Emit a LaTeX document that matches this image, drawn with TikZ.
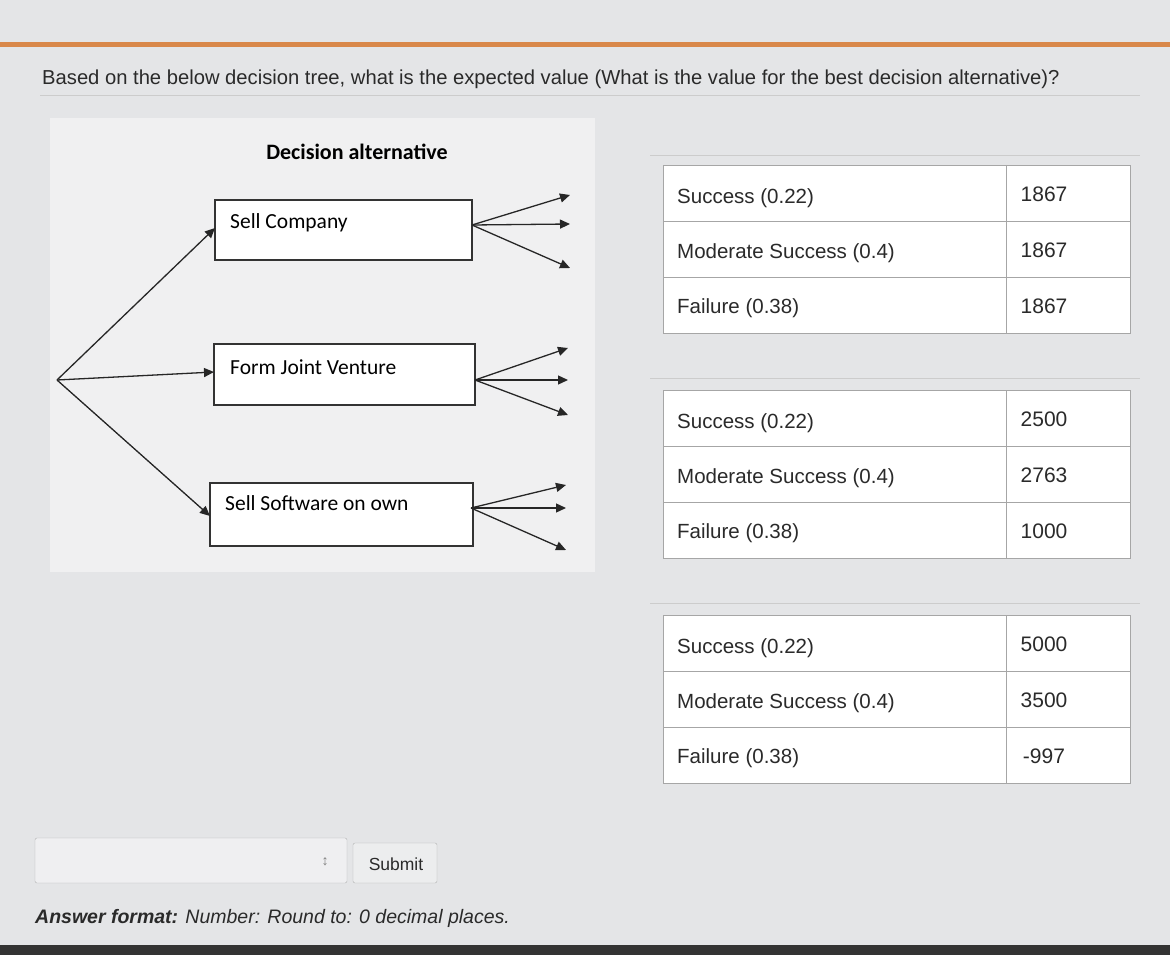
\documentclass[tikz,border=0pt]{standalone}
\usepackage{fontspec}
\setmainfont{Liberation Sans}
\newfontfamily\calfnt{Carlito}
\usetikzlibrary{arrows.meta}
\definecolor{bg}{HTML}{E4E5E7}
\definecolor{panel}{HTML}{F0F0F1}
\definecolor{orng}{HTML}{D9884A}
\definecolor{txt}{HTML}{2A2A2A}
\tikzset{
 tbl/.style={draw=gray!70, fill=white, line width=0.8pt},
 cell/.style={anchor=west, font=\fontsize{20.5}{20}\selectfont, text=txt},
 val/.style={anchor=center, font=\fontsize{21}{21}\selectfont, text=txt},
 dbox/.style={draw=black!80, line width=1.1pt, fill=white},
 dlab/.style={anchor=west, font=\calfnt\fontsize{21.5}{21}\selectfont, text=black},
 arr/.style={-{Triangle[length=10pt,width=9pt]}, line width=1.3pt, black!85},
}
\begin{document}
\begin{tikzpicture}[x=1pt,y=-1pt]
\fill[bg] (0,0) rectangle (1170,955);
\useasboundingbox (0,0) rectangle (1170,955);
\fill[orng] (0,42) rectangle (1170,47);
\draw[gray!40] (40,95) -- (1140,95);
\node[anchor=west, inner sep=0pt, font=\fontsize{20.2}{20}\selectfont, text=txt] (q) at (42,79) {Based on the below decision tree, what is the expected value (What is the value for the best decision alternative)?};
% tree panel
\fill[panel] (50,118) rectangle (595,572);
\node[font=\calfnt\bfseries\fontsize{22}{22}\selectfont] (hd) at (357,152) {Decision alternative};
\draw[dbox] (215,200) rectangle (472,260); \node[dlab, inner sep=0pt] (b1) at (230,223) {Sell Company};
\draw[dbox] (214,344) rectangle (475,405); \node[dlab, inner sep=0pt] (b2) at (230,367) {Form Joint Venture};
\draw[dbox] (210,483) rectangle (473,546); \node[dlab, inner sep=0pt] (b3) at (225,503) {Sell Software on own};
\coordinate (r) at (57,380);
\draw[arr] (r) -- (215,228);
\draw[arr] (r) -- (214,372);
\draw[arr] (r) -- (210,516);
\coordinate (o1) at (472,225); \coordinate (o2) at (475,380); \coordinate (o3) at (471,508);
\foreach \y in {195,224,268} \draw[arr] (o1) -- (570,\y);
\foreach \y in {348,380,415} \draw[arr] (o2) -- (568,\y);
\foreach \y in {485,508,550} \draw[arr] (o3) -- (566,\y);
% tables
\draw[gray!40] (650,155) -- (1140,155);
\draw[gray!40] (650,378) -- (1140,378);
\draw[gray!40] (650,603) -- (1140,603);
\foreach \t/\top/\a/\b/\c in {1/165/1867/1867/1867, 2/390/2500/2763/1000, 3/615/5000/3500/-997}{
 \draw[tbl] (663,\top) rectangle (1130,\top+168);
 \draw[gray!70,line width=0.8pt] (663,\top+56) -- (1130,\top+56) (663,\top+112) -- (1130,\top+112) (1006,\top) -- (1006,\top+168);
 \node[cell, inner sep=0pt] at (677,\top+33) {Success (0.22)};
 \node[cell, inner sep=0pt] at (677,\top+88) {Moderate Success (0.4)};
 \node[cell, inner sep=0pt] at (677,\top+143) {Failure (0.38)};
 \node[val] at (1044,\top+29) {\a};
 \node[val] at (1044,\top+85) {\b};
 \node[val] at (1044,\top+141) {\c};
}
% answer box
\draw[gray!60, fill=bg!60!white, rounded corners=2pt] (35,838) rectangle (347,883);
\node[font=\fontsize{14}{14}\selectfont, text=gray] (sp) at (325,862) {\symbol{"2195}};
\draw[gray!60, fill=bg!70!white, rounded corners=2pt] (353,843) rectangle (437,883);
\node[font=\fontsize{17.5}{17}\selectfont, text=txt] (sb) at (396,864) {Submit};
\node[anchor=west, inner sep=0pt, font=\fontsize{19.5}{19}\selectfont\itshape, text=txt] (af) at (35,918) {\textbf{Answer format:} Number: Round to: 0 decimal places.};
\fill[black!80] (0,945) rectangle (1170,955);
\end{tikzpicture}
\end{document}
